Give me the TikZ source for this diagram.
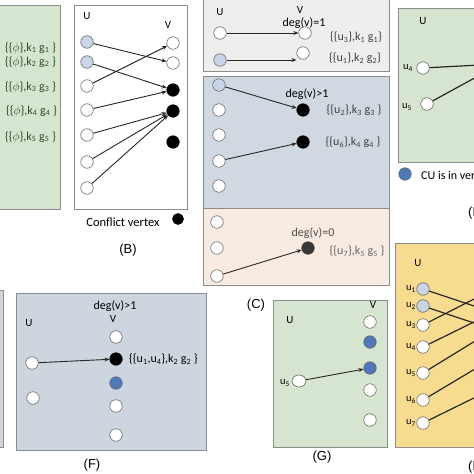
\documentclass[tikz,border=0pt]{standalone}
\usepackage{fontspec}
\setmainfont{Carlito}
\newfontfamily\arialf{Liberation Sans}
\usetikzlibrary{arrows.meta,shapes.geometric}
\definecolor{pgreen}{HTML}{D5E5CF}
\definecolor{pgray}{HTML}{EEEEEE}
\definecolor{pbluegray}{HTML}{D0D8E2}
\definecolor{ppeach}{HTML}{F8ECE2}
\definecolor{pyellow}{HTML}{F7DC8F}
\definecolor{pfblue}{HTML}{CDD5DF}
\definecolor{lblue}{HTML}{C8D6E8}
\definecolor{cublue}{HTML}{4F78B8}
\definecolor{bordergray}{HTML}{8C8C8C}
\definecolor{atext}{HTML}{2E4A2A}
\begin{document}
\begin{tikzpicture}[x=1pt,y=-1pt,
  font=\fontsize{11}{12}\selectfont,
  panel/.style={draw=bordergray,line width=0.8pt},
  vtx/.style={circle,draw=gray!80!black,fill=white,minimum size=12.5pt,inner sep=0pt,line width=0.6pt},
  vlb/.style={vtx,fill=lblue},
  vcu/.style={vtx,fill=cublue},
  vbk/.style={vtx,fill=black,draw=black},
  vdk/.style={vtx,fill=black!78,draw=black!78},
  arr/.style={-{Stealth[length=5pt,width=4pt]},line width=0.9pt,draw=black!85},
  cut/.style={line width=1.2pt,draw=black!85},
  lbl/.style={inner sep=0pt},
  klbl/.style={inner sep=0pt,font=\fontsize{12}{13}\selectfont},
  sublbl/.style={inner sep=0pt,font=\fontsize{10.5}{12}\selectfont},
  plbl/.style={font=\arialf\fontsize{13}{14}\selectfont,inner sep=0pt}]
\useasboundingbox (0,0) rectangle (474,474);
\clip (0,0) rectangle (474,474);
\fill[white] (0,0) rectangle (474,474);

% ---------- panel A (cut) ----------
\draw[panel,fill=pgreen] (-5,5) rectangle (60,209);
\node[klbl,anchor=east,text=atext] (a1) at (56,48) {\{\{$\phi$\},k\textsubscript{1} g\textsubscript{1} \}};
\node[klbl,anchor=east,text=atext] (a2) at (56,62) {\{\{$\phi$\},k\textsubscript{2} g\textsubscript{2} \}};
\node[klbl,anchor=east,text=atext] (a3) at (56,87) {\{\{$\phi$\},k\textsubscript{3} g\textsubscript{3} \}};
\node[klbl,anchor=east,text=atext] (a4) at (57,111) {\{\{$\phi$\},k\textsubscript{4} g\textsubscript{4} \}};
\node[klbl,anchor=east,text=atext] (a5) at (56,137) {\{\{$\phi$\},k\textsubscript{5} g\textsubscript{5} \}};

% ---------- panel B ----------
\draw[panel,fill=white] (74,5) rectangle (187,209);
\node[lbl] (bU) at (87,16) {U};
\node[lbl] (bV) at (168,25) {V};
\node[vlb] (bu1) at (87,42) {};
\node[vlb] (bu2) at (87,62) {};
\node[vtx] (bu3) at (87,86) {};
\node[vtx] (bu4) at (87,110) {};
\node[vtx] (bu5) at (87,135) {};
\node[vtx] (bu6) at (87,162) {};
\node[vtx] (bu7) at (87,188) {};
\node[vtx] (bv1) at (173,43) {};
\node[vtx] (bv2) at (173,63) {};
\node[vbk] (bv3) at (173,90) {};
\node[vbk] (bv4) at (173,111) {};
\node[vbk] (bv5) at (173,142) {};
\draw[arr] (bu1) -- (bv2);
\draw[arr] (bu2) -- (bv3);
\draw[arr] (bu3) -- (bv1);
\draw[arr] (bu4) -- (bv3);
\draw[arr] (bu5) -- (bv4);
\draw[arr] (bu6) -- (bv4);
\draw[arr] (bu7) -- (bv4);
\node[lbl,font=\fontsize{12.5}{14}\selectfont] (cvt) at (123,222) {Conflict vertex};
\node[vbk,minimum size=11pt] (cvd) at (178,219) {};
\node[plbl] (lB) at (128,250) {(B)};

% ---------- panel C ----------
\draw[panel,fill=pgray] (203,-2) rectangle (389,71);
\draw[panel,fill=pbluegray] (203,76) rectangle (389,208);
\draw[panel,fill=ppeach] (203,208) rectangle (389,285);
% C top
\node[lbl] (cU) at (220,12) {U};
\node[lbl] (cV) at (300,10) {V};
\node[klbl] (cdeg1) at (304,23) {deg(v)=1};
\node[vtx] (cu1) at (220,33) {};
\node[vlb] (cu2) at (220,60) {};
\node[vtx] (cv1) at (305,33) {};
\node[vtx] (cv2) at (303,53) {};
\draw[arr] (cu1) -- (cv1);
\draw[arr] (cu2) -- (cv2.west |- cu2);
\node[klbl,text=black!75] (cl1) at (356,37) {\{\{u\textsubscript{3}\},k\textsubscript{1} g\textsubscript{1}\}};
\node[klbl,text=black!75] (cl2) at (355,58) {\{\{u\textsubscript{1}\},k\textsubscript{2} g\textsubscript{2}\}};
% C middle
\node[vlb] (cm1) at (219,85) {};
\node[vtx] (cm2) at (219,110) {};
\node[vtx] (cm3) at (219,135) {};
\node[vtx] (cm4) at (219,161) {};
\node[vtx] (cm5) at (219,186) {};
\node[vbk] (cmv1) at (303,110) {};
\node[vbk] (cmv2) at (303,142) {};
\node[klbl] (cdeg2) at (307,94) {deg(v)>1};
\draw[arr] (cm1) -- (cmv1);
\draw[arr] (cm4) -- (cmv2);
\node[klbl,text=black!75] (cl3) at (354,110) {\{\{u\textsubscript{2}\},k\textsubscript{3} g\textsubscript{3} \}};
\node[klbl,text=black!75] (cl4) at (353,142) {\{\{u\textsubscript{6}\},k\textsubscript{4} g\textsubscript{4} \}};
% C bottom
\node[vtx] (cb1) at (217,222) {};
\node[vtx] (cb2) at (217,248) {};
\node[vtx] (cb3) at (217,276) {};
\node[vdk] (cbv) at (308,248) {};
\node[klbl,text=black!70] (cdeg3) at (313,233) {deg(v)=0};
\draw[arr] (cb3) -- (cbv);
\node[klbl,text=black!60] (cl5) at (357,251) {\{\{u\textsubscript{7}\},k\textsubscript{5} g\textsubscript{5} \}};
\node[plbl] (lC) at (256,305) {(C)};

% ---------- panel D (cut) ----------
\draw[panel,fill=pgreen] (398,8) rectangle (490,162);
\node[lbl] (dU) at (423,21) {U};
\node[sublbl] (du4l) at (408,68) {u\textsubscript{4}};
\node[sublbl] (du5l) at (407,107) {u\textsubscript{5}};
\node[vtx] (du4) at (423,68) {};
\node[vtx] (du5) at (427,104) {};
\coordinate (dx4) at (480,65);
\coordinate (dx5) at (480,75);
\draw[cut] (du4) -- (dx4);
\draw[cut] (du5) -- (dx5);
\node[vcu] (cuk) at (405,174) {};
\node[lbl,anchor=west,font=\fontsize{12}{14}\selectfont] (cut) at (421,175) {CU is in vertex cover};
\node[plbl,anchor=west] (lD) at (468,213) {(D)};

% ---------- panel E (cut) ----------
\draw[panel,fill=pyellow] (395,243) rectangle (490,447);
\node[lbl] (eU) at (418,263) {U};
\foreach \i/\y/\s in {1/289/vlb,2/306/vlb,3/325/vtx,4/347/vtx,5/373/vtx,6/400/vtx,7/423/vtx}{
  \node[\s] (eu\i) at (423,\y) {};
  \node[sublbl,anchor=east] (eul\i) at (416,\y) {u\textsubscript{\i}};
}
\coordinate (ex1) at (480,308);
\coordinate (ex2) at (480,325);
\coordinate (ex3) at (480,296);
\coordinate (ex4) at (480,319);
\coordinate (ex5) at (480,338);
\coordinate (ex6) at (480,366);
\coordinate (ex7) at (480,395);
\foreach \i in {1,...,7}{\draw[cut] (eu\i) -- (ex\i);}
\node[plbl,anchor=west] (lE) at (468,467) {(E)};

% ---------- left sliver ----------
\draw[panel,fill=pfblue] (-5,290) rectangle (3,447);

% ---------- panel F ----------
\draw[panel,fill=pfblue] (16,293) rectangle (206,450);
\node[klbl] (fdeg) at (115,306) {deg(v)>1};
\node[lbl] (fV) at (113,319) {V};
\node[lbl] (fU) at (29,323) {U};
\node[vtx] (fu1) at (32,363) {};
\node[vtx] (fu2) at (33,398) {};
\node[vtx] (fv1) at (116,337) {};
\node[vbk] (fv2) at (116,359) {};
\node[vcu] (fv3) at (116,383) {};
\node[vtx] (fv4) at (116,406) {};
\node[vtx] (fv5) at (116,435) {};
\draw[arr] (fu1) -- (fv2);
\node[klbl,anchor=west] (fl) at (129,359) {\{\{u\textsubscript{1},u\textsubscript{4}\},k\textsubscript{2} g\textsubscript{2} \}};
\node[plbl] (lF) at (92,465) {(F)};

% ---------- panel G ----------
\draw[panel,fill=pgreen] (273,300) rectangle (387,447);
\node[lbl] (gU) at (290,320) {U};
\node[lbl] (gV) at (373,305) {V};
\node[vtx] (gv1) at (370,322) {};
\node[vcu] (gv2) at (370,342) {};
\node[vcu] (gv3) at (370,368) {};
\node[vtx] (gv4) at (370,390) {};
\node[vtx] (gv5) at (370,420) {};
\node[vtx,ellipse,minimum width=14pt,minimum height=12pt] (gu5) at (299,381) {};
\node[sublbl] (gu5l) at (285,383) {u\textsubscript{5}};
\draw[arr] (gu5) -- (gv3);
\node[plbl] (lG) at (322,457) {(G)};
\end{tikzpicture}
\end{document}
